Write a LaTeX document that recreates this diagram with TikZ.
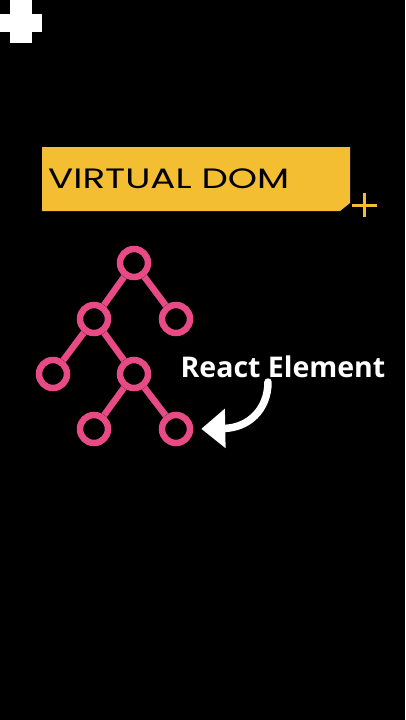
\documentclass[tikz,border=0pt]{standalone}
\usepackage{fontspec}
\setmainfont{Open Sans}
\newfontfamily\titlefont{Poppins}
\usetikzlibrary{arrows.meta}
\definecolor{dyellow}{HTML}{F4BE32}
\definecolor{dpink}{HTML}{E84A86}
\begin{document}
\begin{tikzpicture}[x=1pt,y=-1pt,
  treenode/.style={circle,draw=dpink,line width=6.5pt,minimum size=28pt,inner sep=0pt},
  treeedge/.style={draw=dpink,line width=6.5pt},
  pointer/.style={draw=white,line width=7.5pt,line cap=round,-{Triangle[length=24pt,width=38pt]}},
  labeltext/.style={text=white,font=\bfseries\fontsize{28.5}{30}\selectfont,inner sep=0pt},
  titletext/.style={text=black,font=\titlefont\fontsize{28}{30}\selectfont,inner sep=0pt}]
\fill[black] (0,0) rectangle (405,720);
\useasboundingbox (0,0) rectangle (405,720);
% top-left plus
\fill[white] (10,0) rectangle (32,43);
\fill[white] (0,14) rectangle (42,32);
% title box
\fill[dyellow] (42,147) -- (350,147) -- (350,203) -- (340,211) -- (42,211) -- cycle;
\node[titletext,anchor=base west] (title) at (48,188) {\scalebox{1.33}[1]{VIRTUAL DOM}};
\draw[dyellow,line width=3pt] (352,205) -- (377,205) (364,193) -- (364,217);
% tree
\node[treenode] (r) at (134,263) {};
\node[treenode] (a) at (94,319) {};
\node[treenode] (b) at (176,319) {};
\node[treenode] (c) at (53,374) {};
\node[treenode] (d) at (134,374) {};
\node[treenode] (e) at (94,429) {};
\node[treenode] (f) at (176,429) {};
\draw[treeedge] (r) -- (a) (r) -- (b) (a) -- (c) (a) -- (d) (d) -- (e) (d) -- (f);
% label and arrow
\node[labeltext,anchor=base] (lbl) at (283,377) {React Element};
\coordinate (astart) at (268,382);
\draw[pointer,shorten >=8pt] (astart) .. controls (268,410) and (248,428) .. (f.east);
\end{tikzpicture}
\end{document}
